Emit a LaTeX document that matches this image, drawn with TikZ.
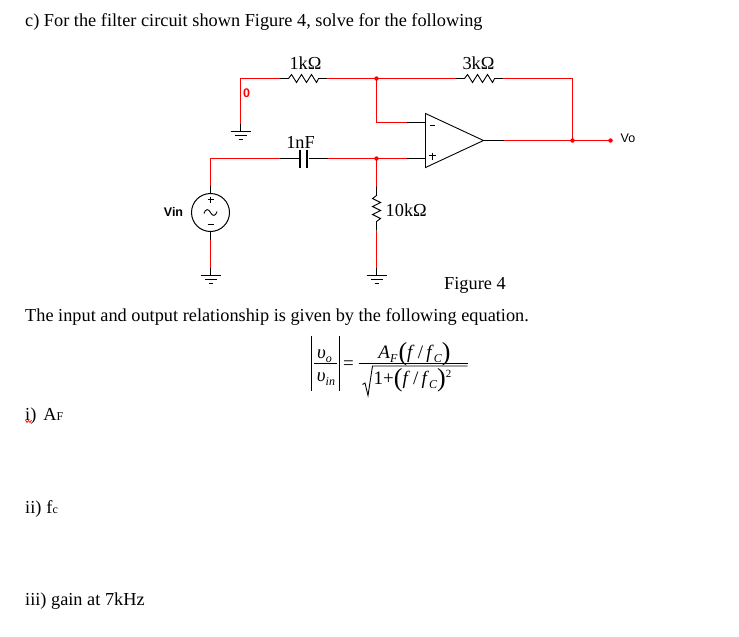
\documentclass[tikz,border=0pt]{standalone}
\usepackage{fontspec}
\setmainfont{Liberation Serif}
\setsansfont{Liberation Sans}
\newcommand{\bigp}[1]{{\fontsize{26}{26}\selectfont\raisebox{-1.5pt}{#1}}}
\newcommand{\lowtxt}[1]{\raisebox{-3.5pt}{\fontsize{12}{12}\selectfont\textit{#1}}}
\begin{document}
\begin{tikzpicture}[x=1pt,y=-1pt,
  wire/.style={draw=red,line width=1.2pt},
  lead/.style={draw=black,line width=1pt},
  part/.style={draw=black,line width=0.9pt,line join=miter},
  dotn/.style={circle,fill=red,inner sep=0pt,minimum size=4.5pt},
  body/.style={font=\fontsize{18.3}{20}\selectfont,anchor=base west,inner sep=0pt},
  val/.style={font=\fontsize{18.3}{20}\selectfont,inner sep=0pt},
  lab/.style={font=\sffamily\fontsize{12.5}{14}\selectfont,inner sep=0pt},
  eq/.style={font=\fontsize{19}{20}\selectfont,inner sep=0pt,anchor=base}]
\useasboundingbox[fill=white] (0,0) rectangle (739,637);
\begin{scope}[shift={(0.5,0.5)}]
% coordinates
\coordinate (gndA) at (240,131);
\coordinate (cornerA) at (240,78);
\coordinate (r1l) at (279,78);
\coordinate (r1r) at (327,78);
\coordinate (r3l) at (455,78);
\coordinate (r3r) at (503,78);
\coordinate (cornerF) at (572,78);
\coordinate (cl) at (279,158);
\coordinate (cr) at (327,158);
\coordinate (srcTop) at (210,185);
\coordinate (cornerS) at (210,158);
\coordinate (srcBot) at (210,239);
\coordinate (gndS) at (210,275);
\coordinate (r10t) at (376,186);
\coordinate (r10b) at (376,230);
\coordinate (gndR) at (376,275);
\coordinate (inN) at (406,122);
\coordinate (inP) at (406,158);
\coordinate (cornerN) at (376,122);
\coordinate (outW) at (503,140);

% junctions
\node[dotn] (j1) at (376,78) {};
\node[dotn] (j2) at (376,158) {};
\node[dotn] (j3) at (572,140) {};
\node[dotn] (vo) at (610,140) {};

% red wires
\draw[wire] (240,123) -- (cornerA) -- (r1l);
\draw[wire] (r1r) -- (j1.center) -- (r3l);
\draw[wire] (r3r) -- (cornerF) -- (j3.center);
\draw[wire] (j1.center) -- (cornerN) -- (inN);
\draw[wire] (srcTop) -- (cornerS) -- (cl);
\draw[wire] (cr) -- (j2.center) -- (inP);
\draw[wire] (j2.center) -- (r10t);
\draw[wire] (r10b) -- (376,267);
\draw[wire] (srcBot) -- (210,267);
\draw[wire] (outW) -- (vo.center);

% 1k resistor
\draw[part] (r1l) -- (288,78) -- (291,74) -- (296,82) -- (301,74) -- (306,82) -- (311,74) -- (316,82) -- (318,78) -- (r1r);
% 3k resistor
\draw[part] (r3l) -- (464,78) -- (467,74) -- (472,82) -- (477,74) -- (482,82) -- (487,74) -- (492,82) -- (494,78) -- (r3r);
% 10k resistor
\draw[part] (r10t) -- (376,195) -- (372,198) -- (380,202) -- (372,206) -- (380,210) -- (372,214) -- (380,218) -- (376,221) -- (r10b);
% capacitor
\draw[lead] (cl) -- (298,158);
\draw[lead] (308,158) -- (cr);
\draw[draw=black,line width=1.6pt] (299.5,149) -- (299.5,167);
\draw[draw=black,line width=1.6pt] (306.5,149) -- (306.5,167);

% opamp
\coordinate (oaT) at (425,113);
\coordinate (oaB) at (425,167);
\coordinate (oaO) at (483,140);
\draw[part] (oaT) -- (oaO) -- (oaB) -- cycle;
\draw[lead] (inN) -- (425,122);
\draw[lead] (inP) -- (425,158);
\draw[lead] (oaO) -- (outW);
\draw[line width=0.9pt] (429,125) -- (434,125);
\draw[line width=0.9pt] (428,155) -- (435,155) (431.5,152) -- (431.5,159);

% source
\node[circle,draw=black,line width=1pt,minimum size=38pt,inner sep=0pt] (src) at (210,212) {};
\draw[lead] (srcTop) -- (src.north);
\draw[lead] (src.south) -- (srcBot);
\draw[line width=0.9pt] (207,199) -- (213,199) (210,196) -- (210,202);
\draw[line width=0.9pt] (207,224) -- (213,224);
\draw[line width=0.9pt] (203.5,213) .. controls (205,208) and (208,208) .. (210,212) .. controls (212,216) and (215,216) .. (216.5,211);

% grounds
\foreach \g/\xx/\yy in {gndA/240/131, gndS/210/275, gndR/376/275}{
  \draw[line width=1pt] (\xx,\yy-8) -- (\xx,\yy);
  \draw[line width=1pt] (\xx-10,\yy) -- (\xx+10,\yy);
  \draw[line width=1pt] (\xx-6,\yy+4) -- (\xx+6,\yy+4);
  \draw[line width=1pt] (\xx-2,\yy+8) -- (\xx+2,\yy+8);
}

% part labels
\node[val] (l1k) at (305,63) {1kΩ};
\node[val] (l3k) at (478,63) {3kΩ};
\node[val] (l1n) at (300,142) {1nF};
\node[val,anchor=west] (l10k) at (385,210) {10kΩ};
\node[lab,text=red,font=\sffamily\bfseries\fontsize{12.5}{14}\selectfont] (l0) at (246,93) {0};
\node[lab,font=\sffamily\bfseries\fontsize{12.5}{14}\selectfont] (lvin) at (173,211) {Vin};
\node[lab,anchor=west] (lvo) at (620,138) {Vo};

% equation
\draw[line width=1pt] (311,335) -- (311,390);
\draw[line width=1pt] (339,335) -- (339,390);
\draw[line width=1pt] (313,363) -- (336,363);
\node[eq] (eqvo) at (324,358) {\textit{υ}\lowtxt{o}};
\node[eq] (eqvin) at (325.5,381) {\textit{υ}\lowtxt{in}};
\node[eq] (eqeq) at (348,369) {=};
\draw[line width=1pt] (358,363) -- (467,363);
\node[eq] (eqnum) at (414,358) {\textit{A}\lowtxt{F}\hspace{1pt}\bigp{(}\textit{f}\,/\,\textit{f}\lowtxt{C}\bigp{)}};
\draw[line width=0.9pt] (362,384) -- (364.5,382.5) -- (367.5,395) -- (372,365.5) -- (467,365.5);
\node[eq,anchor=base west] (eqden) at (373,384) {1+\bigp{(}\textit{f}\,/\,\textit{f}\lowtxt{C}\bigp{)}\raisebox{7pt}{\fontsize{11}{11}\selectfont 2}};
\end{scope}

% body text
\node[body] (t1) at (25,26) {c) For the filter circuit shown Figure 4, solve for the following};
\node[body] (t2) at (444,289) {Figure 4};
\node[body] (t3) at (25,321) {The input and output relationship is given by the following equation.};
\node[body] (t4) at (25,420) {i)\hspace{7pt}A{\fontsize{12}{12}\selectfont F}};
\node[body] (t5) at (25,513) {ii)\hspace{5pt}f{\fontsize{12}{12}\selectfont c}};
\node[body] (t6) at (25,605) {iii) gain at 7kHz};
\draw[red,line width=0.7pt] (25.5,420) -- (27,422.5) -- (28.5,420.5) -- (30,422.5) -- (31.5,420);
\end{tikzpicture}
\end{document}
